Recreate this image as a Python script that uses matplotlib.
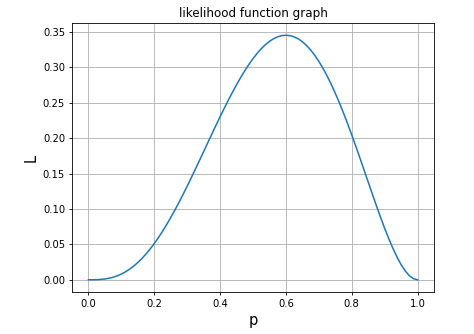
import matplotlib
matplotlib.use('Agg')
import matplotlib.pyplot as plt

# values, step 0.0125
p = [0.0, 0.0125, 0.025, 0.0375, 0.05, 0.0625, 0.075, 0.0875, 0.1, 0.1125,
     0.125, 0.1375, 0.15, 0.1625, 0.175, 0.1875, 0.2, 0.2125, 0.225, 0.2375,
     0.25, 0.2625, 0.275, 0.2875, 0.3, 0.3125, 0.325, 0.3375, 0.35, 0.3625,
     0.375, 0.3875, 0.4, 0.4125, 0.425, 0.4375, 0.45, 0.4625, 0.475, 0.4875,
     0.5, 0.5125, 0.525, 0.5375, 0.55, 0.5625, 0.575, 0.5875, 0.6, 0.6125,
     0.625, 0.6375, 0.65, 0.6625, 0.675, 0.6875, 0.7, 0.7125, 0.725, 0.7375,
     0.75, 0.7625, 0.775, 0.7875, 0.8, 0.8125, 0.825, 0.8375, 0.85, 0.8625,
     0.875, 0.8875, 0.9, 0.9125, 0.925, 0.9375, 0.95, 0.9625, 0.975, 0.9875,
     1.0]
L = [0.0, 0.00002, 0.00015, 0.00049, 0.00113, 0.00215, 0.00361, 0.00558, 0.0081, 0.01122,
     0.01495, 0.01934, 0.02438, 0.0301, 0.03648, 0.04352, 0.0512, 0.05951, 0.06842, 0.07789,
     0.08789, 0.09838, 0.10931, 0.12064, 0.1323, 0.14425, 0.15641, 0.16873, 0.18115, 0.19359,
     0.20599, 0.21829, 0.2304, 0.24226, 0.25381, 0.26496, 0.27565, 0.28582, 0.29539, 0.30431,
     0.3125, 0.31992, 0.32649, 0.33217, 0.33691, 0.34067, 0.34339, 0.34505, 0.3456, 0.34504,
     0.34332, 0.34046, 0.33642, 0.33121, 0.32485, 0.31734, 0.3087, 0.29897, 0.28819, 0.2764,
     0.26367, 0.25006, 0.23565, 0.22053, 0.2048, 0.18857, 0.17196, 0.15512, 0.13818, 0.12131,
     0.10468, 0.08847, 0.0729, 0.05817, 0.04452, 0.03219, 0.02143, 0.01254, 0.00579, 0.00151,
     0.0]

fig = plt.figure(figsize=(4.74, 3.34), dpi=100)
ax = fig.add_axes([72/474, 42/334, 362/474, 269/334])

ax.plot(p, L, color='#1f77b4', linewidth=1.1)
ax.set_title('likelihood function graph', fontsize=8.6, pad=4)
ax.set_xlabel('p', fontsize=10.5, labelpad=3)
ax.set_ylabel('L', fontsize=10.5, labelpad=3)
ax.set_yticks([0.0, 0.05, 0.10, 0.15, 0.20, 0.25, 0.30, 0.35])
ax.tick_params(labelsize=7.2, length=2.5, width=0.6, pad=2.5)
ax.grid(True, linewidth=0.6)
for s in ax.spines.values():
    s.set_linewidth(0.6)

fig.savefig('out.png', dpi=100)
